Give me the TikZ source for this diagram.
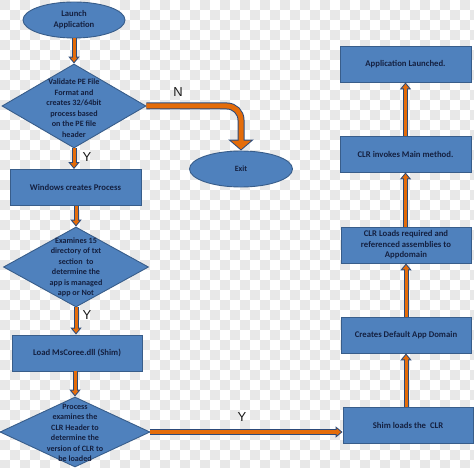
\documentclass[tikz,border=0pt]{standalone}
\usepackage{fontspec}
\setmainfont{Carlito}
\newfontfamily\labelfont{Liberation Sans}
\usetikzlibrary{shapes.geometric,arrows.meta}
\definecolor{boxfill}{HTML}{4F81BD}
\definecolor{boxline}{HTML}{385D8A}
\definecolor{nodeink}{RGB}{20,32,64}
\definecolor{arrfill}{HTML}{E46C0A}
\definecolor{arrline}{HTML}{2C4A7A}
\definecolor{checker}{HTML}{E8E8E8}
\tikzset{
  box/.style={rectangle, draw=boxline, fill=boxfill, line width=0.9pt,
    minimum width=130pt, minimum height=36pt, inner sep=1pt, align=center,
    text=nodeink, font=\bfseries\fontsize{8.7}{10.5}\selectfont},
  ell/.style={ellipse, draw=boxline, fill=boxfill, line width=0.9pt,
    minimum width=102pt, minimum height=36pt, inner sep=0pt, align=center,
    text=nodeink, font=\bfseries\fontsize{8.6}{11}\selectfont},
  dia/.style={diamond, draw=boxline, fill=boxfill, line width=0.9pt, inner sep=0pt},
  dtext/.style={align=center, inner sep=0pt, text=nodeink,
    font=\bfseries\fontsize{8.1}{10.5}\selectfont},
  lbl/.style={inner sep=0pt, text=black!90, font=\labelfont\fontsize{13}{13}\selectfont},
  arrout/.style={draw=arrline, line width=5pt, -{Triangle[length=7pt,width=11pt]}},
  arrin/.style={draw=arrfill, line width=3pt, -{Triangle[length=4.4pt,width=6.9pt]}, shorten >=1.6pt},
  harrout/.style={draw=arrline, line width=6pt, -{Triangle[length=7pt,width=11pt]}},
  harrin/.style={draw=arrfill, line width=4pt, -{Triangle[length=4.4pt,width=6.9pt]}, shorten >=1.6pt},
  bigout/.style={draw=arrline, line width=7pt, rounded corners=14pt, -{Triangle[length=11pt,width=25pt]}},
  bigin/.style={draw=arrfill, line width=5pt, rounded corners=14pt, -{Triangle[length=8.7pt,width=19.7pt]}, shorten >=1.3pt}
}
\begin{document}
\begin{tikzpicture}[x=1pt,y=-1pt]
\useasboundingbox (0,0) rectangle (474,468);
\fill[white] (0,0) rectangle (474,468);
\foreach \i in {0,...,47}{\foreach \j in {0,...,46}{
  \pgfmathtruncatemacro\chk{mod(\i+\j,2)}
  \ifnum\chk=0 \fill[checker] (\i*10,\j*10) rectangle ++(10,10);\fi}}

% left column
\node[ell] (launch) at (74,20) {Launch\\Application};
\node[dia, minimum width=144pt, minimum height=84pt] (d1) at (74,106) {};
\node[dtext] (d1t) at (74,108) {Validate PE File\\Format and\\creates 32/64bit\\process based\\on the PE file\\header};
\node[box, minimum width=131pt] (win) at (75.5,187.5) {Windows creates Process};
\node[dia, minimum width=145pt, minimum height=80pt] (d2) at (76,267) {};
\node[dtext] (d2t) at (76,267.5) {Examines 15\\directory of txt\\section~ to\\determine the\\app is managed\\app or Not};
\node[box] (load) at (77,353) {Load MsCoree.dll (Shim)};
\node[dia, minimum width=150pt, minimum height=70pt] (d3) at (75,432) {};
\node[dtext] (d3t) at (75,433) {Process\\examines the\\CLR Header to\\determine the\\version of CLR to\\be loaded};

% exit
\node[ell, minimum width=103pt, font=\bfseries\fontsize{8}{10}\selectfont] (exit) at (241,169) {Exit};

% right column
\node[box] (shim) at (408,425.5) {Shim loads the~ CLR};
\node[box] (cdad) at (406,335) {Creates Default App Domain};
\node[box] (clrl) at (406,245) {CLR Loads required and\\referenced assemblies to\\Appdomain};
\node[box, minimum width=131pt] (clri) at (405.5,154) {CLR invokes Main method.};
\node[box, minimum width=131pt] (appl) at (405.5,64) {Application Launched.};

% labels
\node[lbl] (nlab) at (178,92) {N};
\node[lbl] (y1) at (87,157) {Y};
\node[lbl] (y2) at (87,315) {Y};
\node[lbl] (y3) at (242,417) {Y};

% left column arrows
\draw[arrout] (launch.south) -- (launch.south |- d1.north);
\draw[arrin]  (launch.south) -- (launch.south |- d1.north);
\draw[arrout] (d1.south) -- (d1.south |- win.north);
\draw[arrin]  (d1.south) -- (d1.south |- win.north);
\draw[arrout] (win.south -| d2.north) -- (d2.north);
\draw[arrin]  (win.south -| d2.north) -- (d2.north);
\draw[arrout] (d2.south) -- (d2.south |- load.north);
\draw[arrin]  (d2.south) -- (d2.south |- load.north);
\draw[arrout] (load.south -| d3.north) -- (d3.north);
\draw[arrin]  (load.south -| d3.north) -- (d3.north);

% N arrow
\draw[bigout] (d1.east) -| (exit.north);
\draw[bigin]  (d1.east) -| (exit.north);

% Y arrow
\draw[harrout] (d3.east) -- (d3.east -| shim.west);
\draw[harrin]  (d3.east) -- (d3.east -| shim.west);

% right column arrows
\draw[arrout] (shim.north -| cdad.south) -- (cdad.south);
\draw[arrin]  (shim.north -| cdad.south) -- (cdad.south);
\draw[arrout] (cdad.north) -- (clrl.south);
\draw[arrin]  (cdad.north) -- (clrl.south);
\draw[arrout] (clrl.north -| clri.south) -- (clri.south);
\draw[arrin]  (clrl.north -| clri.south) -- (clri.south);
\draw[arrout] (clri.north) -- (appl.south);
\draw[arrin]  (clri.north) -- (appl.south);
\end{tikzpicture}
\end{document}
